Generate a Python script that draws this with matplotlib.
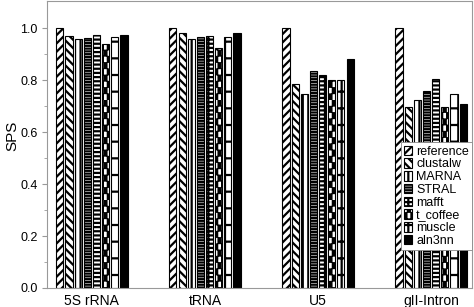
import numpy as np
import matplotlib
matplotlib.use("Agg")
import matplotlib.pyplot as plt
import matplotlib.hatch as mhatch
from matplotlib.path import Path

categories = ["5S rRNA", "tRNA", "U5", "gII-Intron"]
methods = ["reference", "clustalw", "MARNA", "STRAL", "mafft", "t_coffee", "muscle", "aln3nn"]

reference = [1.0, 1.0, 1.0, 1.0]
clustalw = [0.97, 0.98, 0.785, 0.695]
marna = [0.96, 0.96, 0.745, 0.723]
stral = [0.962, 0.968, 0.837, 0.758]
mafft = [0.973, 0.972, 0.82, 0.806]
t_coffee = [0.94, 0.924, 0.802, 0.697]
muscle = [0.965, 0.968, 0.8, 0.745]
aln3nn = [0.973, 0.98, 0.88, 0.707]


# checkerboard hatch for t_coffee, takes the place of the '*' pattern
class Checker(mhatch.HatchPatternBase):
    def __init__(self, hatch, density):
        k = hatch.count('*')
        self.nx = 14 * k
        self.ny = 8 * k
        self.num_vertices = 5 * ((self.nx * self.ny + 1) // 2) if k else 0
        self.filled = True

    def set_vertices_and_codes(self, vertices, codes):
        sx = 1.0 / self.nx
        sy = 1.0 / self.ny
        d = 0.007
        c = 0
        for i in range(self.nx):
            for j in range(self.ny):
                if (i + j) % 2:
                    continue
                x0, y0 = i * sx + d, j * sy + d
                x1, y1 = (i + 1) * sx - d, (j + 1) * sy - d
                vertices[c:c + 5] = [(x0, y0), (x1, y0), (x1, y1), (x0, y1), (x0, y0)]
                codes[c:c + 5] = [Path.MOVETO, Path.LINETO, Path.LINETO,
                                  Path.LINETO, Path.CLOSEPOLY]
                c += 5


mhatch._hatch_types = [t for t in mhatch._hatch_types if t is not mhatch.Stars] + [Checker]

plt.rcParams['font.family'] = ['Liberation Sans', 'DejaVu Sans']
plt.rcParams['hatch.linewidth'] = 1.6

series = [reference, clustalw, marna, stral, mafft, t_coffee, muscle, aln3nn]
hatches = ['////', '\\\\\\\\', '|||', '------', '----|', '**', '+', None]
faces = ['white'] * 7 + ['black']

fig = plt.figure(figsize=(4.74, 3.07), dpi=100)
ax = fig.add_axes([0.099, 0.062, 0.897, 0.934])

x = np.arange(len(categories))
step = 0.081
for j, vals in enumerate(series):
    ax.bar(x + (j - 3.5) * step, vals, width=0.063, color=faces[j],
           edgecolor='black', linewidth=0.8, hatch=hatches[j], label=methods[j])

ax.set_xlim(-0.398, 3.363)
ax.set_ylim(0, 1.104)
ax.set_xticks(x)
ax.set_xticklabels(categories, fontsize=10)
ax.set_yticks(np.arange(0, 1.01, 0.2))
ax.set_yticks(np.arange(0.1, 1.0, 0.2), minor=True)
ax.yaxis.set_major_formatter(matplotlib.ticker.FormatStrFormatter('%.1f'))
ax.tick_params(axis='y', which='major', length=3.3, color='#999999', labelsize=9, pad=3.5)
ax.tick_params(axis='y', which='minor', length=2, color='#999999')
ax.tick_params(axis='x', length=0, pad=4)
ax.set_ylabel("SPS", fontsize=11)
ax.yaxis.set_label_coords(-0.064, 0.53)
for s in ax.spines.values():
    s.set_color('#999999')

leg = ax.legend(loc='lower right', bbox_to_anchor=(1.0, 0.132), fontsize=9,
                frameon=True, fancybox=False, framealpha=1, edgecolor='#888888',
                borderaxespad=0, borderpad=0.25, labelspacing=0.05,
                handlelength=0.7, handleheight=0.8, handletextpad=0.3)
leg.get_frame().set_linewidth(0.6)

fig.savefig("out.png", dpi=100)
